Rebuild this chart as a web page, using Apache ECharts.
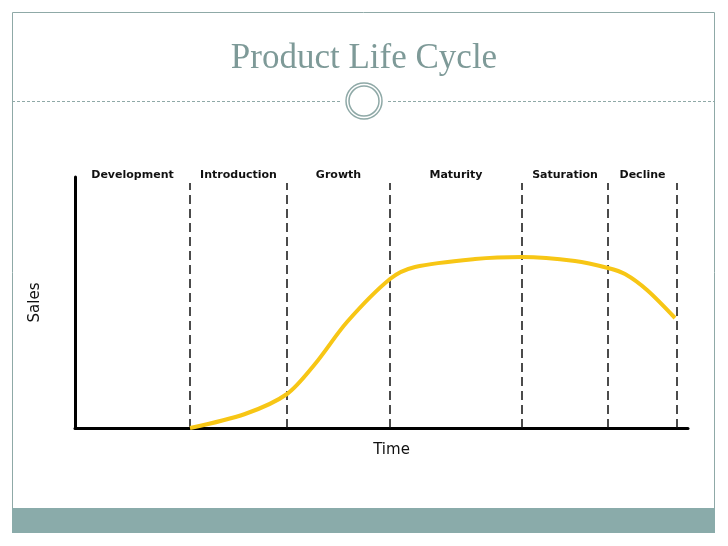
<!DOCTYPE html>
<html>
<head>
    <meta charset="utf-8">
    <script src="https://cdn.jsdelivr.net/npm/echarts@6/dist/echarts.min.js"></script>
</head>
<body style="margin:0;background:#fff;">
<div id="plc-chart" style="width:728px;height:546px;"></div>
<script>
  // stages of the life cycle and where each one starts / ends on the time axis
  var stageNames = ['Development', 'Introduction', 'Growth', 'Maturity', 'Saturation', 'Decline'];
  var stageEdges = [0, 115, 212, 315, 447, 533, 602];

  // sales curve
  var timeValues  = [115, 170, 212, 240, 272, 315, 340, 400, 447, 500, 533, 550, 572, 600];
  var salesValues = [0, 14, 34, 64, 106, 149, 161, 169, 171, 167, 160, 154, 138, 110];

  var frameColor = '#8fa9a7';
  var myChart = echarts.init(document.getElementById('plc-chart'));

  var curve = [];
  for (var i = 0; i < timeValues.length; i++) {
    curve.push([timeValues[i], salesValues[i]]);
  }

  // dashed stage borders
  var borderLines = [];
  for (var j = 1; j < stageEdges.length; j++) {
    borderLines.push([{coord: [stageEdges[j], 0]}, {coord: [stageEdges[j], 245]}]);
  }

  // one invisible area per stage, just to carry its name on top
  var stageAreas = [];
  for (var k = 0; k < stageNames.length; k++) {
    stageAreas.push([
      {name: stageNames[k], xAxis: stageEdges[k], yAxis: 0},
      {xAxis: stageEdges[k + 1], yAxis: 245}
    ]);
  }

  var option = {
    animation: false,
    title: {
      text: 'Product Life Cycle',
      left: 'center',
      top: 36,
      textStyle: {
        fontFamily: 'Liberation Serif',
        fontWeight: 'normal',
        fontSize: 35,
        color: '#7e9a98'
      }
    },
    graphic: [
      // slide frame
      {type: 'rect', shape: {x: 12.5, y: 12.5, width: 702, height: 520}, style: {fill: null, stroke: frameColor, lineWidth: 1}},
      {type: 'rect', shape: {x: 12, y: 508, width: 703, height: 25}, style: {fill: '#8aabaa'}},
      // dashed rule under the title with the ring in the middle
      {type: 'line', shape: {x1: 12, y1: 101.5, x2: 340, y2: 101.5}, style: {stroke: frameColor, lineWidth: 1, lineDash: [3, 2]}},
      {type: 'line', shape: {x1: 388, y1: 101.5, x2: 715, y2: 101.5}, style: {stroke: frameColor, lineWidth: 1, lineDash: [3, 2]}},
      {type: 'circle', shape: {cx: 364, cy: 101, r: 18}, style: {fill: '#fff', stroke: frameColor, lineWidth: 1.5}},
      {type: 'circle', shape: {cx: 364, cy: 101, r: 15}, style: {fill: null, stroke: frameColor, lineWidth: 1.5}}
    ],
    grid: {left: 75, right: 40, top: 177, bottom: 118},
    xAxis: {
      type: 'value',
      min: 0,
      max: 613,
      name: 'Time',
      nameLocation: 'middle',
      nameGap: 15,
      nameTextStyle: {fontFamily: 'DejaVu Sans', fontSize: 15, color: '#111', padding: [0, 0, 0, 20]},
      axisLine: {lineStyle: {color: '#000', width: 3}},
      axisTick: {show: false},
      axisLabel: {show: false},
      splitLine: {show: false}
    },
    yAxis: {
      type: 'value',
      min: 0,
      max: 251,
      name: 'Sales',
      nameLocation: 'middle',
      nameGap: 32,
      nameTextStyle: {fontFamily: 'DejaVu Sans', fontSize: 15, color: '#111'},
      axisLine: {show: true, lineStyle: {color: '#000', width: 3}},
      axisTick: {show: false},
      axisLabel: {show: false},
      splitLine: {show: false}
    },
    series: [{
      type: 'line',
      data: curve,
      smooth: 0.3,
      symbol: 'none',
      lineStyle: {color: '#f7c615', width: 4},
      z: 5,
      markLine: {
        silent: true,
        symbol: 'none',
        label: {show: false},
        lineStyle: {color: '#111', width: 1.5, type: [9, 5]},
        data: borderLines
      },
      markArea: {
        silent: true,
        itemStyle: {color: 'rgba(0,0,0,0)'},
        label: {
          show: true,
          position: 'top',
          distance: 2,
          fontFamily: 'DejaVu Sans',
          fontWeight: 'bold',
          fontSize: 11,
          color: '#111'
        },
        data: stageAreas
      }
    }]
  };

  myChart.setOption(option);
</script>
</body>
</html>
